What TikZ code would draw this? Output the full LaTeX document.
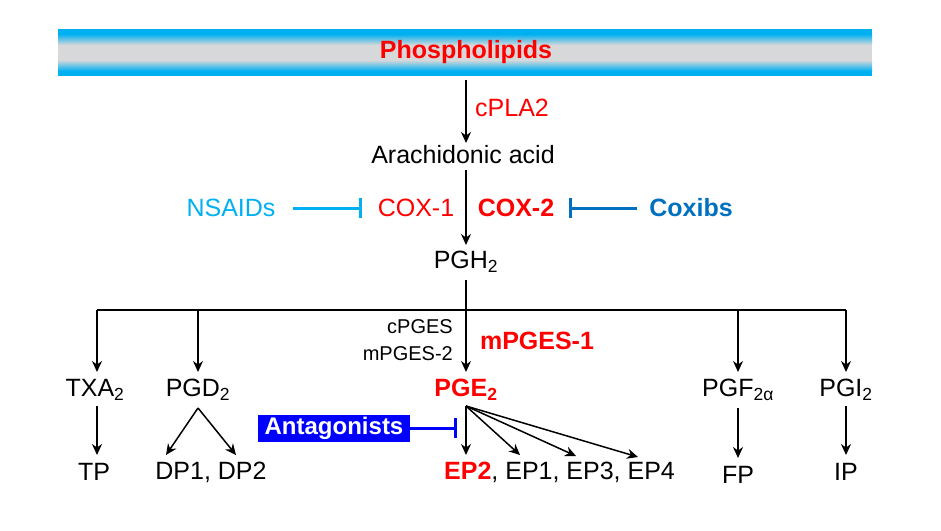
\documentclass[tikz,border=0pt]{standalone}
\usepackage{fontspec}
\setmainfont{Liberation Sans}
\usetikzlibrary{arrows.meta}
\definecolor{barblue}{RGB}{0,176,240}
\definecolor{nsaid}{RGB}{0,176,240}
\definecolor{coxib}{RGB}{0,112,192}
\definecolor{ant}{RGB}{0,0,255}
\definecolor{rd}{RGB}{255,0,0}
\definecolor{bargray}{RGB}{214,216,218}
\begin{document}
\begin{tikzpicture}[x=1pt,y=-1pt,
  txt/.style={inner sep=0pt,font=\fontsize{25}{29}\selectfont},
  btxt/.style={inner sep=0pt,font=\fontsize{25}{29}\selectfont\bfseries},
  arr/.style={-{Stealth[length=11pt,width=10pt]},line width=1.5pt},
  inh/.style={-{Bar[width=20pt,line width=3pt]},line width=3pt}]
\useasboundingbox (0,0) rectangle (941,530);
\fill[barblue] (58,29) rectangle (872,76);
\fill[top color=barblue,bottom color=bargray] (58,34) rectangle (872,45);
\fill[bargray] (58,45) rectangle (872,60);
\fill[top color=bargray,bottom color=barblue] (58,60) rectangle (872,71);
\node[btxt,text=rd] (pl) at (466,52) {Phospholipids};
\node[txt,text=rd] (cpla) at (512,108) {cPLA2};
\node[txt] (aa) at (463,155) {Arachidonic acid};
\coordinate (s1) at (466,80);
\draw[arr] (s1) -- (466,143);
\node[txt,text=rd] (cox1) at (416,208) {COX-1};
\node[btxt,text=rd] (cox2) at (516,208) {COX-2};
\node[txt,text=nsaid] (ns) at (231,208) {NSAIDs};
\node[btxt,text=coxib] (cx) at (691,208) {Coxibs};
\coordinate (a2) at (466,170);
\draw[arr] (a2) -- (466,245);
\coordinate (nb) at (362,208);\coordinate (cb) at (569,208);
\draw[inh,nsaid] (293,208) -- (nb);
\draw[inh,coxib] (637,208) -- (cb);
\node[txt] (pgh) at (466,262) {PGH\textsubscript{2}};
\coordinate (h) at (466,310);
\draw[line width=1.5pt] (466,280) -- (h);
\draw[line width=1.5pt] (97,310) -- (846,310);
\foreach \x in {97,198,466,738,846} \draw[arr] (\x,310) -- (\x,372);
\node[txt,font=\fontsize{20}{24}\selectfont,anchor=east] (cp) at (453,327) {cPGES};
\node[txt,font=\fontsize{20}{24}\selectfont,anchor=east] (mp2) at (453,354) {mPGES-2};
\node[btxt,text=rd] (mp1) at (537,341) {mPGES-1};
\node[txt] (txa) at (95,390) {TXA\textsubscript{2}};
\node[txt] (pgd) at (198,390) {PGD\textsubscript{2}};
\node[btxt,text=rd] (pge) at (466,390) {PGE\textsubscript{2}};
\node[txt] (pgf) at (738,390) {PGF\textsubscript{2α}};
\node[txt] (pgi) at (846,390) {PGI\textsubscript{2}};
\node[txt] (tp) at (94,472) {TP};
\node[txt] (dp) at (211,472) {DP1, DP2};
\node[txt] (fp) at (738,475) {FP};
\node[txt] (ip) at (846,472) {IP};
\node[txt,anchor=west] (ep) at (444,472) {\textcolor{rd}{\bfseries EP2}, EP1, EP3, EP4};
\draw[arr] (97,406) -- (97,455);
\draw[arr] (198,408) -- (166,455);
\draw[arr] (198,408) -- (236,455);
\draw[arr] (738,408) -- (738,458);
\draw[arr] (846,406) -- (846,455);
\coordinate (pb) at (466,406);
\draw[arr] (pb) -- (466,455);
\draw[arr] (pb) -- (520,455);
\draw[arr] (pb) -- (576,456);
\draw[arr] (pb) -- (638,457);
\node[fill=ant,text=white,font=\fontsize{24}{28}\selectfont\bfseries,minimum width=152pt,minimum height=27pt,inner sep=0pt] (an) at (334,428) {Antagonists};
\coordinate (ab) at (457,428);
\draw[inh,ant] (an.east) -- (ab);
\end{tikzpicture}
\end{document}
